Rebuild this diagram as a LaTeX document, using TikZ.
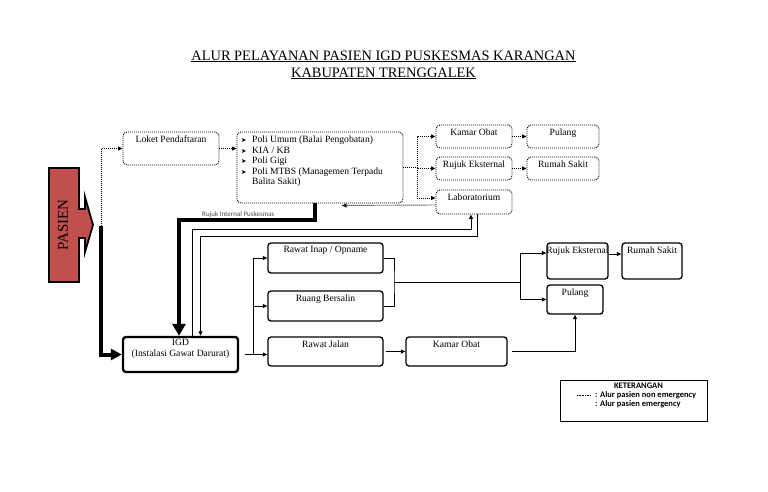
\documentclass[tikz,border=0pt]{standalone}
\usepackage{fontspec}
\setmainfont{Liberation Serif}
\newfontfamily\legfont{Carlito}
\newfontfamily\symfont{DejaVu Sans}
\usetikzlibrary{arrows.meta,fit,calc}
\definecolor{pasienred}{RGB}{192,80,77}
\newcommand{\pbul}{\makebox[11pt][l]{\symfont\fontsize{6.5}{6.5}\selectfont ➤}}
\newcommand{\mybox}[6]{\node[#1, fit={#3 #4}] (#2) {};
  \node[boxtext, anchor=north] (#2-t) at ([yshift=#6]#2.north) {#5};}
\begin{document}
\begin{tikzpicture}[x=1pt,y=-1pt,
 >={Triangle[length=4.5pt,width=4pt]},
 dbox/.style={draw, dash pattern=on 1pt off 1pt, line width=0.9pt, rounded corners=4pt, inner sep=0pt},
 sbox/.style={draw, line width=1.3pt, rounded corners=3pt, inner sep=0pt},
 igdbox/.style={draw, line width=2.4pt, rounded corners=3pt, inner sep=0pt},
 boxtext/.style={inner sep=0pt, font=\fontsize{9.6}{10.8}\selectfont, align=center},
 dline/.style={dash pattern=on 1pt off 1pt, line width=0.9pt},
 sline/.style={line width=1pt},
 emer/.style={line width=4pt},
 legtext/.style={font=\legfont\bfseries\fontsize{8.5}{9}\selectfont, inner sep=0pt},
]
\useasboundingbox (0,0) rectangle (768,491);

% title
\node[anchor=base, inner sep=0pt, font=\fontsize{14.4}{16}\selectfont] (title1) at (383.5,60) {\underline{ALUR PELAYANAN PASIEN IGD PUSKESMAS KARANGAN}};
\node[anchor=base, inner sep=0pt, font=\fontsize{14.4}{16}\selectfont] (title2) at (383.5,77) {\underline{KABUPATEN TRENGGALEK}};

% PASIEN arrow
\filldraw[fill=pasienred, draw=black, line width=1.8pt, line join=miter]
  (49,168) -- (79,168) -- (79,209) -- (85,209) -- (85,197) -- (93,225) -- (85,252)
  -- (85,238) -- (79,238) -- (79,282) -- (49,282) -- cycle;
\node[rotate=90, inner sep=0pt, font=\fontsize{15}{15}\selectfont] (pasien) at (63,225) {PASIEN};

% boxes (non emergency)
\mybox{dbox}{loket}{(123,132)}{(219,165)}{Loket Pendaftaran}{-4pt}
\node[dbox, fit={(237,132)(403,203)}] (poli) {};
\node[anchor=north west, inner sep=0pt, align=left, font=\fontsize{9.6}{10.4}\selectfont] (poli-t) at (241,136)
  {\pbul Poli Umum (Balai Pengobatan)\\ \pbul KIA / KB\\ \pbul Poli Gigi\\ \pbul Poli MTBS (Managemen Terpadu\\ \hspace*{11pt}Balita Sakit)};
\mybox{dbox}{kobat1}{(436,125)}{(512,148)}{Kamar Obat}{-4pt}
\mybox{dbox}{rujuk1}{(436,157)}{(512,180)}{Rujuk Eksternal}{-4pt}
\mybox{dbox}{lab}{(436,190)}{(512,214)}{Laboratorium}{-4pt}
\mybox{dbox}{pulang1}{(527,125)}{(599,148)}{Pulang}{-4pt}
\mybox{dbox}{rs1}{(527,157)}{(599,180)}{Rumah Sakit}{-4pt}

% boxes (emergency)
\mybox{igdbox}{igd}{(123,337)}{(238,372)}{IGD\\(Instalasi Gawat Darurat)}{-3pt}
\mybox{sbox}{inap}{(268,243)}{(383,273)}{Rawat Inap / Opname}{-4pt}
\mybox{sbox}{bersalin}{(268,291)}{(383,321)}{Ruang Bersalin}{-4pt}
\mybox{sbox}{jalan}{(268,337)}{(383,366)}{Rawat Jalan}{-4pt}
\mybox{sbox}{kobat2}{(406,337)}{(507,366)}{Kamar Obat}{-4pt}
\mybox{sbox}{rujuk2}{(547,243)}{(608,279)}{Rujuk Eksternal}{-4pt}
\mybox{sbox}{rs2}{(622,243)}{(682,279)}{Rumah Sakit}{-4pt}
\mybox{sbox}{pulang2}{(547,285)}{(603,314)}{Pulang}{-4pt}

% patient flows from PASIEN
\coordinate (split) at (101,226);
\draw[dline, ->] (split) |- (loket.west);
\draw[emer, -{Triangle[length=11pt,width=11pt]}] (split) |- (igd.west);

% non emergency connectors
\draw[dline, ->] (loket.east) -- (loket.east -| poli.west);
\coordinate (fork1) at ([xshift=14pt]poli.east);
\draw[dline] (poli.east) -- (fork1);
\draw[dline, ->] (fork1) |- (kobat1.west);
\draw[dline, ->] (fork1) -- (rujuk1.west -| fork1) -- (rujuk1.west);
\draw[dline, ->] (fork1) |- ([yshift=4pt]lab.west);
\draw[dline, ->] (kobat1) -- (pulang1);
\draw[dline, ->] (rujuk1) -- (rs1);
\draw[dline, ->] ([yshift=-3pt]lab.west) -- ([xshift=22pt,yshift=-2pt]poli.south);

% rujuk internal
\draw[emer, -{Triangle[length=12pt,width=13pt]}] ([xshift=-5pt]poli.south) -- ++(0,17) -| ([xshift=-1.5pt]igd.north);
\node[anchor=base west, inner sep=0pt, text=black!70, font=\legfont\fontsize{7}{7}\selectfont] (ri-label) at (202,216) {Rujuk Internal Puskesmas};

% IGD <-> laboratorium
\draw[sline, ->] ([xshift=12pt]igd.north) -- ++(0,-106) -| ([xshift=-3pt]lab.south);
\draw[sline, ->] ([xshift=3pt]lab.south) -- ++(0,22) -| ([xshift=20pt]igd.north);

% IGD to units
\coordinate (fork2) at (253,354.5);
\draw[sline, ->] ([xshift=6pt]igd.east) -- (igd.east -| jalan.west);
\draw[sline, ->] (fork2) |- (inap.west);
\draw[sline, ->] (fork2) |- (bersalin.west);
\draw[sline, ->] ([xshift=2pt]jalan.east) -- (kobat2.west);

% rawat inap / bersalin outcome
\coordinate (brk) at (394,282);
\coordinate (fork3) at (520,282);
\draw[sline] (inap.east) -| (brk) |- (bersalin.east);
\draw[sline] (brk) -- (fork3);
\draw[sline, ->] (fork3) |- ([yshift=8pt]rujuk2.west);
\draw[sline, ->] (fork3) |- (pulang2.west);
\draw[sline, ->] ([yshift=7pt]rujuk2.east) -- ([yshift=7pt]rs2.west);
\draw[sline, ->] ([xshift=4pt]kobat2.east) -| (pulang2.south);

% legend
\node[draw, line width=0.8pt, fit={(560,380)(707,421)}, inner sep=0pt] (leg) {};
\node[legtext] (leg-title) at (638.5,386) {KETERANGAN};
\node[legtext, anchor=west] (leg-1) at (595,395) {: Alur pasien non emergency};
\node[legtext, anchor=west] (leg-2) at (595,404.5) {: Alur pasien emergency};
\draw[dash pattern=on 0.8pt off 0.8pt, line width=0.8pt] ([xshift=-18pt]leg-1.west) -- ([xshift=-4pt]leg-1.west);
\end{tikzpicture}
\end{document}
